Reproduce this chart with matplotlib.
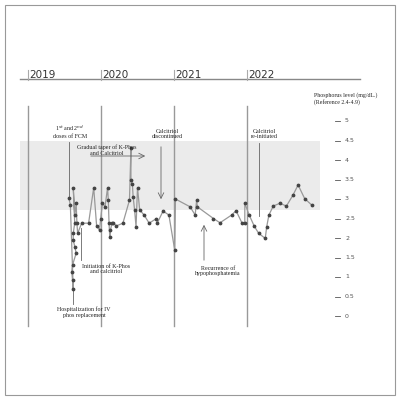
import matplotlib.pyplot as plt
from matplotlib.patches import Rectangle

# phosphorus measurements (fractional year, mg/dL)
years = [2019.56, 2019.58, 2019.62, 2019.61, 2019.60, 2019.61, 2019.66, 2019.64, 2019.62, 2019.62,
         2019.64, 2019.62, 2019.64, 2019.66, 2019.67, 2019.68, 2019.735, 2019.83, 2019.90, 2019.94,
         2019.98, 2019.995, 2020.02, 2020.055, 2020.09, 2020.10, 2020.11, 2020.12, 2020.13, 2020.15,
         2020.17, 2020.21, 2020.30, 2020.39, 2020.41, 2020.41, 2020.43, 2020.44, 2020.46, 2020.48,
         2020.50, 2020.53, 2020.59, 2020.66, 2020.76, 2020.77, 2020.85, 2020.93, 2021.01, 2021.02,
         2021.22, 2021.29, 2021.31, 2021.32, 2021.54, 2021.63, 2021.79, 2021.85, 2021.93, 2021.97,
         2021.97, 2022.03, 2022.10, 2022.16, 2022.25, 2022.27, 2022.30, 2022.36, 2022.45, 2022.54,
         2022.63, 2022.70, 2022.79, 2022.89]
phos = [3.02, 2.85, 0.68, 0.92, 1.14, 1.31, 1.61, 1.78, 1.95, 2.12,
        2.38, 3.29, 2.59, 2.89, 2.38, 2.12, 2.38, 2.38, 3.29, 2.31,
        2.20, 2.49, 2.89, 2.80, 3.29, 2.97, 2.38, 2.03, 2.20, 2.38,
        2.38, 2.31, 2.38, 2.97, 4.30, 3.49, 3.38, 3.06, 2.72, 2.29,
        3.29, 2.72, 2.59, 2.38, 2.50, 2.38, 2.69, 2.59, 1.69, 3.00,
        2.80, 2.59, 2.97, 2.80, 2.50, 2.39, 2.59, 2.70, 2.39, 2.39,
        2.89, 2.59, 2.30, 2.12, 1.99, 2.29, 2.59, 2.82, 2.89, 2.82,
        3.10, 3.36, 3.01, 2.84]
year_labels = ["2019", "2020", "2021", "2022"]
year_pos = [2019, 2020, 2021, 2022]
y_ticks = [0, 0.5, 1, 1.5, 2, 2.5, 3, 3.5, 4, 4.5, 5]


def X(px):
    return 2019 + (px - 28) / 73


def Y(py):
    return (316 - py) / 39


fig = plt.figure(figsize=(4, 4), dpi=100)
ax = fig.add_axes([0, 0, 1, 1])
ax.set_xlim(X(0), X(400))
ax.set_ylim(Y(400), Y(0))
ax.axis("off")

fig.patches.append(Rectangle((0.012, 0.012), 0.976, 0.976, transform=fig.transFigure,
                             fill=False, edgecolor="#999999", lw=0.8))

# reference band
ax.add_patch(Rectangle((X(20), 2.72), X(320) - X(20), 4.49 - 2.72, color="#ebebeb", lw=0, zorder=0))

# timeline header
ax.plot([X(20), X(360)], [Y(79), Y(79)], color="#888888", lw=1)
for yp, lab in zip(year_pos, year_labels):
    ax.plot([yp, yp], [Y(70), Y(80)], color="#aaaaaa", lw=0.8)
    ax.text(yp + 0.02, Y(75), lab, fontsize=7.5, color="#333333", va="center", family="DejaVu Sans")
    ax.plot([yp, yp], [Y(106), Y(326)], color="#999999", lw=1, zorder=1)

ax.plot(years, phos, color="#999999", lw=0.9, zorder=2)
ax.scatter(years, phos, s=3, color="#444444", zorder=3)

# right-hand scale
ax.text(X(314), Y(99), "Phosphorus level (mg/dL.)\n(Reference 2.4-4.9)", fontsize=4.2,
        family="Liberation Serif", va="center", ha="left", color="#222222")
for t in y_ticks:
    ax.plot([X(335), X(340)], [t, t], color="#555555", lw=0.6)
    ax.text(X(345), t, f"{t:g}", fontsize=4.5, va="center", color="#555555")

serif = dict(fontsize=4.3, family="Liberation Serif", ha="center", va="center", color="#222222")
line = dict(color="#666666", lw=0.6)

ax.text(X(70), Y(131), "1$^{st}$ and 2$^{nd}$\ndoses of FCM", **serif)
ax.plot([X(69), X(69)], [Y(142), Y(197)], **line)

ax.text(X(107), Y(150), "Gradual taper of K-Phos\nand Calcitriol", **serif)
ax.annotate("", xy=(X(148), Y(156)), xytext=(X(88), Y(156)),
            arrowprops=dict(arrowstyle="->", color="#666666", lw=0.6))

ax.text(X(167), Y(134), "Calcitriol\ndiscontinued", **serif)
ax.annotate("", xy=(X(161), Y(202)), xytext=(X(161), Y(144)),
            arrowprops=dict(arrowstyle="->", color="#666666", lw=0.6))

ax.text(X(106), Y(269), "Initiation of K-Phos\nand calcitriol", **serif)
ax.plot([X(81), X(81)], [Y(228), Y(260)], **line)

ax.text(X(84), Y(312), "Hospitalization for IV\nphos replacement", **serif)
ax.plot([X(73), X(73)], [Y(290), Y(304)], **line)

ax.text(X(218), Y(271), "Recurrence of\nhypophosphatemia", **serif)
ax.annotate("", xy=(X(204), Y(222)), xytext=(X(204), Y(263)),
            arrowprops=dict(arrowstyle="->", color="#666666", lw=0.6))

ax.text(X(264), Y(134), "Calcitriol\nre-initiated", **serif)
ax.plot([X(259), X(259)], [Y(143), Y(216)], **line)

fig.savefig("out.png", dpi=100)
